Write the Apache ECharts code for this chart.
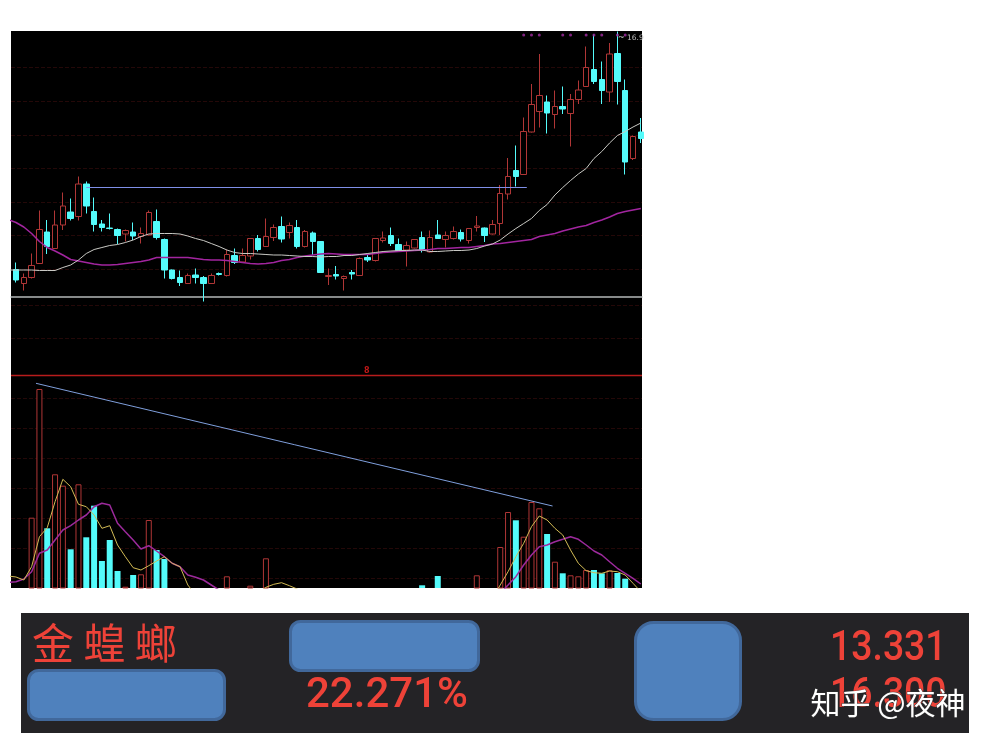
<!DOCTYPE html>
<html>
<head>
<meta charset="utf-8">
<title>金蝗螂</title>
<script src="https://cdn.jsdelivr.net/npm/echarts@6/dist/echarts.min.js"></script>
<style>
html, body { margin: 0; padding: 0; background: #fff; }
#main { width: 995px; height: 745px; }
</style>
</head>
<body>
<div id="main"></div>
<script>
// daily candles (no axis on it, so the price scale is anchored on the 16.9 tag)
var open = [12.25,11.97,12.09,12.37,13.00,12.67,13.14,13.40,13.31,13.96,
	13.41,13.16,13.08,13.05,12.96,13.00,12.91,12.94,13.21,12.85,
	12.24,12.09,11.97,12.14,12.09,11.97,12.17,12.13,12.53,12.40,
	12.52,12.87,12.71,12.89,13.11,12.99,13.09,12.71,12.98,12.81,
	12.11,12.15,12.07,12.19,12.13,12.49,12.43,12.83,12.93,12.75,
	12.64,12.68,12.89,12.60,12.94,12.85,12.87,12.99,12.83,13.09,
	13.08,12.96,13.17,13.76,14.23,14.15,15.00,15.41,15.60,15.35,
	15.51,15.37,15.65,15.91,16.25,16.05,15.80,16.57,15.83,14.47,15.00];
var close = [12.04,12.09,12.33,13.05,12.71,13.14,13.52,13.27,13.96,13.52,
	13.15,13.09,13.07,12.93,13.03,12.92,12.97,13.39,12.89,12.24,
	12.07,11.99,12.13,12.09,11.97,12.13,12.15,12.55,12.39,12.53,
	12.87,12.65,12.91,13.09,12.86,13.13,12.71,13.01,12.81,12.19,
	12.13,12.12,12.11,12.16,12.47,12.44,12.87,12.88,12.77,12.63,
	12.73,12.85,12.64,12.89,12.87,12.93,13.01,12.86,13.07,13.12,
	12.93,13.15,13.77,14.11,14.11,15.01,15.55,15.73,15.38,15.51,
	15.46,15.65,15.84,16.29,16.01,15.83,16.56,16.01,14.40,14.91,14.87];
var low = [11.99,11.83,12.07,12.37,12.56,12.66,13.04,13.23,13.23,13.37,
	13.01,13.01,13.05,12.76,12.81,12.84,12.77,12.93,12.85,12.07,
	12.05,11.92,11.96,11.97,11.61,11.96,12.13,12.11,12.36,12.39,
	12.45,12.61,12.71,12.82,12.79,12.87,12.67,12.69,12.54,12.19,
	11.94,12.05,11.83,12.05,12.13,12.40,12.41,12.79,12.72,12.61,
	12.31,12.67,12.59,12.59,12.86,12.69,12.85,12.81,12.77,13.01,
	12.80,12.95,12.94,13.65,13.91,14.15,14.99,15.09,14.97,15.07,
	15.36,14.71,15.56,15.91,15.96,15.56,15.60,15.55,14.15,14.44,14.78];
var high = [12.39,12.17,12.57,13.43,13.24,13.43,13.79,13.67,14.11,14.01,
	13.69,13.24,13.37,13.07,13.05,13.19,13.09,13.43,13.45,12.87,
	12.25,12.23,12.17,12.27,12.12,12.17,12.19,12.65,12.67,12.67,
	12.87,12.94,13.27,13.15,13.31,13.19,13.24,13.04,13.01,12.81,
	12.27,12.32,12.13,12.24,12.49,12.57,12.87,13.01,13.09,12.87,
	12.81,12.85,13.01,13.03,13.24,13.01,13.11,13.05,13.07,13.32,
	13.09,13.24,13.94,14.48,14.73,15.29,15.96,16.56,15.73,15.83,
	15.91,15.76,16.03,16.71,16.95,16.41,16.78,17.01,16.05,14.93,15.28];

// price averages, first number is the day before the window
var maWhite = [12.24,12.24,12.24,12.24,12.23,12.23,12.23,12.29,12.34,12.44,12.57,
	12.65,12.69,12.73,12.75,12.79,12.84,12.91,12.96,12.97,12.97,
	12.97,12.96,12.92,12.87,12.83,12.77,12.71,12.64,12.59,12.57,
	12.57,12.56,12.55,12.54,12.54,12.53,12.52,12.51,12.51,12.50,
	12.51,12.51,12.53,12.53,12.55,12.57,12.59,12.61,12.62,12.63,
	12.63,12.64,12.64,12.61,12.61,12.62,12.63,12.63,12.64,12.67,
	12.72,12.76,12.84,12.96,13.07,13.17,13.27,13.43,13.55,13.74,
	13.89,14.03,14.16,14.27,14.47,14.61,14.78,14.93,15.01,15.10,15.18];
var maPurple = [13.25,13.19,13.10,12.97,12.81,12.69,12.62,12.54,12.45,12.42,12.39,
	12.36,12.34,12.34,12.35,12.37,12.39,12.41,12.44,12.49,12.49,
	12.49,12.49,12.49,12.47,12.45,12.44,12.44,12.43,12.41,12.39,
	12.37,12.36,12.37,12.39,12.43,12.45,12.49,12.52,12.54,12.56,
	12.57,12.56,12.55,12.55,12.55,12.55,12.57,12.59,12.60,12.61,
	12.62,12.63,12.64,12.65,12.67,12.67,12.68,12.69,12.69,12.71,
	12.73,12.76,12.77,12.79,12.81,12.83,12.85,12.91,12.94,12.97,
	13.02,13.06,13.10,13.13,13.19,13.24,13.30,13.37,13.41,13.44,13.47];

// volume, the picture is cropped at the bottom so anything under 1000 is a guess
var volume = [900,900,1703,2990,1597,2137,2023,1387,2037,1507,
	1823,1270,1480,1170,1013,1130,1137,1680,1380,1290,
	900,900,900,900,900,900,900,1117,900,900,
	1023,900,1297,900,900,900,900,900,900,900,
	900,900,900,900,900,900,900,900,900,900,
	900,900,1027,900,1120,900,900,900,900,1127,
	900,900,1410,1760,1677,1513,1860,1797,1540,1263,
	1147,1127,1117,1180,1180,1147,1177,1150,1093,900,900];
var volYellow = [1120,1110,1080,1213,1513,1603,1863,2087,2013,1837,1813,
	1730,1597,1623,1430,1313,1203,1180,1223,1270,1313,
	1247,1213,1030,930,890,870,850,870,860,850,
	900,950,1007,1037,1053,1023,990,960,930,900,
	880,860,850,840,830,820,820,820,830,840,
	850,860,860,870,880,880,880,890,900,900,
	880,900,1030,1163,1313,1447,1613,1720,1680,1597,
	1530,1380,1247,1173,1153,1147,1170,1163,1130,1047,963];
var volPurple = [1055,1063,1090,1163,1347,1380,1480,1580,1623,1680,1730,
	1813,1847,1830,1647,1563,1480,1390,1423,1370,1313,
	1247,1213,1130,1107,1080,1030,980,950,930,920,
	910,900,890,880,870,860,850,840,830,820,
	810,800,800,790,790,780,780,780,780,780,
	780,780,790,790,800,800,800,810,810,820,
	830,840,950,1030,1113,1230,1330,1413,1430,1463,
	1487,1513,1487,1430,1370,1330,1263,1197,1147,1097,1040];

var signalDays = [65,66,67,70,71,73,74,75,77,78];
var signalLevel = 16.94;
var priceGuides = [16.29,15.62,14.93,14.27,13.60,12.93,12.26];
var volGuides = [3830,3500,2900,2600,2300,2000,1700,1400,1100];
var volMainDays = [-0.64,80.15];
var volMainLevel = [3125,3125];
var resistDays = [9,65.4];
var resistPrice = [13.89,13.89];
var volTrendDays = [2.56,68.7];
var volTrendValues = [3047,1820];

var highTag = "16.9";
var stockName = "金 蝗 螂";
var gainText = "22.271%";
var buyPrice = "13.331";
var sellPrice = "16.300";
var watermark = "知乎 @夜神";

var RED = "#b03636";
var CYAN = "#54fbfb";
var GUIDE = "#240808";
var TEXT_RED = "#ee4238";
var xMin = -0.64, xMax = 80.15;

function withDays(values) {
	// the first value of these lists sits one day left of the window
	return values.map(function (v, i) { return [i - 1, v]; });
}

function guideLines(levels) {
	return {
		silent: true,
		symbol: "none",
		z: 1,
		label: { show: false },
		lineStyle: { color: GUIDE, width: 1, type: "dashed" },
		data: levels.map(function (v) { return { yAxis: v }; })
	};
}

function hLine(days, values) {
	return days.map(function (d, i) { return [d, values[i]]; });
}

function bigNumber(text, x, y, stretch) {
	return {
		type: "text", z: 12, x: x, y: y, scaleX: stretch,
		style: { text: text, fill: TEXT_RED, font: '500 42px Roboto', align: "left", verticalAlign: "middle" }
	};
}

var candles = open.map(function (o, i) {
	return [i, o, close[i], low[i], high[i]];
});

var volBars = volume.map(function (v, i) {
	var down = close[i] < open[i];
	return {
		value: [i, v],
		itemStyle: down ? { color: CYAN, borderColor: CYAN, borderWidth: 0 }
			: { color: "#000", borderColor: RED, borderWidth: 1 }
	};
});

var chart = echarts.init(document.getElementById("main"));
var option = {
	animation: false,
	backgroundColor: "#fff",
	grid: [
		{ left: 11, top: 31, width: 631, height: 266, show: true, backgroundColor: "#000", borderWidth: 0 },
		{ left: 11, top: 297, width: 631, height: 291, show: true, backgroundColor: "#000", borderWidth: 0 }
	],
	xAxis: [
		{ type: "value", gridIndex: 0, min: xMin, max: xMax, axisLabel: { show: false }, axisTick: { show: false },
			splitLine: { show: false }, axisLine: { show: true, onZero: false, lineStyle: { color: "#b4b8b8", width: 1.5 } } },
		{ type: "value", gridIndex: 1, min: xMin, max: xMax, show: false, splitLine: { show: false } }
	],
	yAxis: [
		{ type: "value", gridIndex: 0, min: 11.7, max: 17.02, show: false, splitLine: { show: false } },
		{ type: "value", gridIndex: 1, min: 1000, max: 3910, show: false, splitLine: { show: false } }
	],
	series: [
		{
			name: "K",
			type: "candlestick",
			xAxisIndex: 0,
			yAxisIndex: 0,
			barWidth: 6,
			encode: { x: 0, y: [1, 2, 3, 4] },
			data: candles,
			itemStyle: { color: "#000", color0: CYAN, borderColor: RED, borderColor0: CYAN, borderWidth: 1 },
			markLine: guideLines(priceGuides),
			z: 3
		},
		{
			name: "MA1",
			type: "line",
			xAxisIndex: 0,
			yAxisIndex: 0,
			data: withDays(maWhite),
			showSymbol: false,
			lineStyle: { color: "#c9c9c4", width: 1 },
			z: 5
		},
		{
			name: "MA2",
			type: "line",
			xAxisIndex: 0,
			yAxisIndex: 0,
			data: withDays(maPurple),
			showSymbol: false,
			lineStyle: { color: "#a2259f", width: 1.5 },
			z: 4
		},
		{
			name: "resist",
			type: "line",
			xAxisIndex: 0,
			yAxisIndex: 0,
			data: hLine(resistDays, resistPrice),
			showSymbol: false,
			lineStyle: { color: "#7f8fe8", width: 1 },
			z: 4
		},
		{
			name: "signal",
			type: "scatter",
			xAxisIndex: 0,
			yAxisIndex: 0,
			data: signalDays.map(function (d) { return [d, signalLevel]; }),
			symbol: "circle",
			symbolSize: 3,
			itemStyle: { color: "#a32ca3" },
			z: 6
		},
		{
			name: "VOL",
			type: "bar",
			xAxisIndex: 1,
			yAxisIndex: 1,
			barWidth: 6,
			data: volBars,
			markLine: guideLines(volGuides),
			z: 3
		},
		{
			name: "VOL1",
			type: "line",
			xAxisIndex: 1,
			yAxisIndex: 1,
			data: withDays(volYellow),
			showSymbol: false,
			lineStyle: { color: "#d2bb55", width: 1 },
			z: 5
		},
		{
			name: "VOL2",
			type: "line",
			xAxisIndex: 1,
			yAxisIndex: 1,
			data: withDays(volPurple),
			showSymbol: false,
			lineStyle: { color: "#9c2a9c", width: 1.5 },
			z: 4
		},
		{
			name: "volTrend",
			type: "line",
			xAxisIndex: 1,
			yAxisIndex: 1,
			data: hLine(volTrendDays, volTrendValues),
			showSymbol: false,
			lineStyle: { color: "#7f9fdc", width: 1 },
			z: 6
		},
		{
			name: "volMain",
			type: "line",
			xAxisIndex: 1,
			yAxisIndex: 1,
			data: hLine(volMainDays, volMainLevel),
			showSymbol: false,
			lineStyle: { color: "#b81c1c", width: 1.5 },
			z: 2
		}
	],
	graphic: [
		// tag next to the highest candle and the small mark on the red line
		{ type: "text", left: 618, top: 34, z: 20, style: { text: "~", fill: "#c8c8c8", font: "8px DejaVu Sans" } },
		{ type: "text", left: 627, top: 34, z: 20, style: { text: highTag, fill: "#bdbdbd", font: "7.5px DejaVu Sans" } },
		{ type: "text", left: 364, top: 367, z: 20, style: { text: "8", fill: "#c01818", font: "bold 8px DejaVu Sans" } },

		// the pasted strip under the chart
		{ type: "rect", z: 10, shape: { x: 21, y: 613, width: 948, height: 120 }, style: { fill: "#242326" } },
		{ type: "rect", z: 11, shape: { x: 28.5, y: 670.5, width: 196, height: 49, r: 10 },
			style: { fill: "#4f81bd", stroke: "#41689b", lineWidth: 3 } },
		{ type: "rect", z: 11, shape: { x: 290.5, y: 621.5, width: 188, height: 49, r: 10 },
			style: { fill: "#4f81bd", stroke: "#41689b", lineWidth: 3 } },
		{ type: "rect", z: 11, shape: { x: 635.5, y: 622.5, width: 105, height: 97, r: 18 },
			style: { fill: "#4f81bd", stroke: "#41689b", lineWidth: 3 } },
		{ type: "text", z: 12, left: 32, top: 622, style: { text: stockName, fill: TEXT_RED, font: '42px "Noto Sans CJK SC"' } },
		bigNumber(gainText, 306, 696, 1),
		bigNumber(buyPrice, 830, 649, 0.89),
		bigNumber(sellPrice, 830, 696, 0.89),
		{ type: "text", z: 13, left: 810, top: 687, style: { text: watermark, fill: "#fff", font: '30px "Noto Sans CJK SC"', stroke: "#333", lineWidth: 1 } }
	]
};
chart.setOption(option);
</script>
</body>
</html>
